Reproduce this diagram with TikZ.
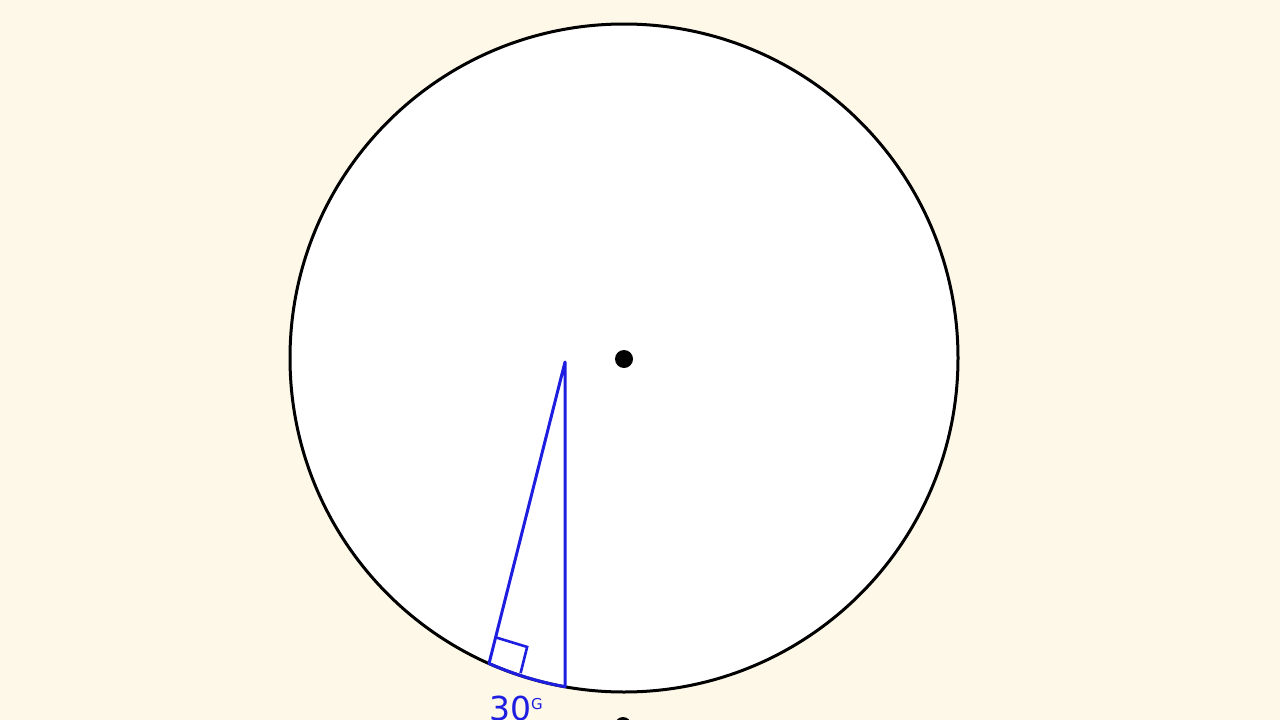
\documentclass[tikz,border=0pt]{standalone}
\usepackage{fontspec}
\setmainfont{DejaVu Sans}
\usetikzlibrary{calc}
\definecolor{bg}{RGB}{253,248,232}
\definecolor{myblue}{RGB}{30,30,225}
\begin{document}
\begin{tikzpicture}[x=1pt,y=-1pt,
  circ/.style={draw=black,line width=3pt,fill=white},
  tri/.style={draw=myblue,line width=3pt,line join=round},
  lab/.style={text=myblue,font=\fontsize{33}{33}\selectfont,inner sep=0pt}]
\path[fill=bg] (0,0) rectangle (1280,720);
\useasboundingbox (0,0) rectangle (1280,720);
\coordinate (O) at (624,358);
\draw[circ] (O) circle[radius=334];
\fill (O) ++(0,1) circle[radius=9];
\coordinate (A) at (565,362);
\coordinate (F) at (565,686.7);
\coordinate (L) at (489,663.5);
% blue arc from F to L along circle
\draw[tri] (A) -- (F) arc[start angle=100.18, end angle=113.84, radius=334] -- cycle;
% right angle marker
\coordinate (M1) at ($(L)!27pt!(A)$);
\coordinate (M2) at ($(L)!33pt!(F)$);
\draw[myblue,line width=2.6pt] (M1) -- ($(M1)+(M2)-(L)$) -- (M2);
\node[lab,anchor=base west] (t) at (489,720) {30\raisebox{11pt}{\fontsize{15}{15}\selectfont G}};
\begin{scope}
\clip (0,0) rectangle (1280,720);
\fill (623,725) circle[radius=8];
\end{scope}
\end{tikzpicture}
\end{document}
